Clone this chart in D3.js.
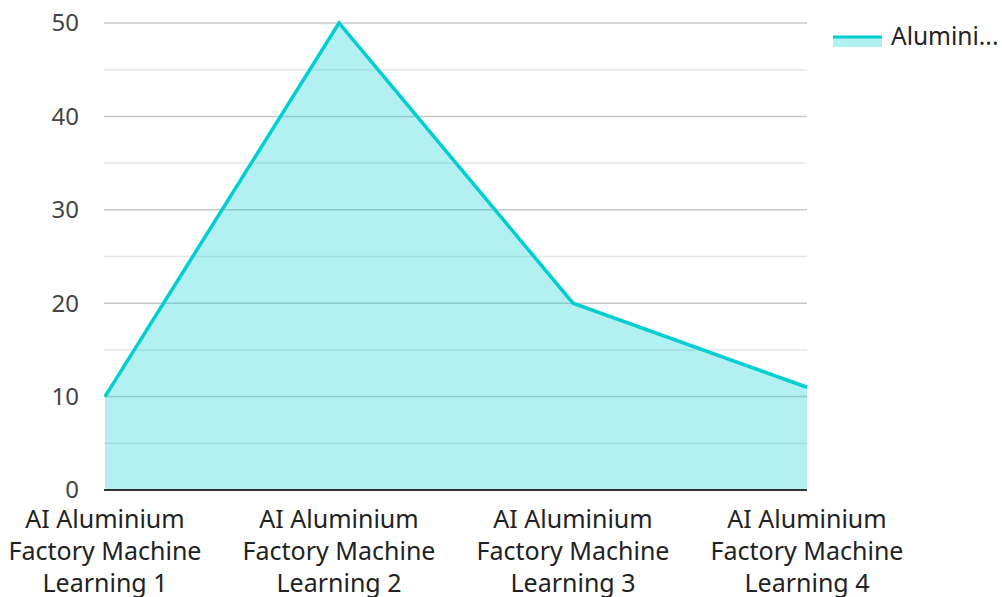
<!DOCTYPE html>
<html>
<head>
<meta charset="utf-8">
<script src="https://cdn.jsdelivr.net/npm/d3@7"></script>
<style>
  html, body { margin: 0; padding: 0; background: #fff; }
  svg { display: block; font-family: "Noto Sans", sans-serif; }
</style>
</head>
<body>
<svg id="chart" width="1002" height="597"></svg>
<script>
const categories = [
  ["AI Aluminium", "Factory Machine", "Learning 1"],
  ["AI Aluminium", "Factory Machine", "Learning 2"],
  ["AI Aluminium", "Factory Machine", "Learning 3"],
  ["AI Aluminium", "Factory Machine", "Learning 4"]
];
const values = [10, 50, 20, 11];
const majorTicks = [0, 10, 20, 30, 40, 50];
const minorTicks = [5, 15, 25, 35, 45];
const seriesName = "Alumini...";

const lineColor = "#00CED1";

const svg = d3.select("#chart");
const plot = { left: 105, right: 807, top: 23, bottom: 490 };

const x = d3.scalePoint().domain(d3.range(values.length)).range([plot.left, plot.right]);
const y = d3.scaleLinear().domain([0, 50]).range([plot.bottom, plot.top]);

// gridlines
svg.append("g").selectAll("line").data(minorTicks).join("line")
  .attr("x1", plot.left - 1).attr("x2", plot.right)
  .attr("y1", d => y(d)).attr("y2", d => y(d))
  .attr("stroke", "#e6e6e6").attr("stroke-width", 1.5);
svg.append("g").selectAll("line").data(majorTicks.filter(d => d > 0)).join("line")
  .attr("x1", plot.left - 1).attr("x2", plot.right)
  .attr("y1", d => y(d)).attr("y2", d => y(d))
  .attr("stroke", "#c8c8c8").attr("stroke-width", 1.5);

// area fill
const area = d3.area().x((d, i) => x(i)).y0(y(0)).y1(d => y(d));
svg.append("path").datum(values).attr("d", area)
  .attr("fill", lineColor).attr("fill-opacity", 0.3);

// line
const line = d3.line().x((d, i) => x(i)).y(d => y(d));
svg.append("path").datum(values).attr("d", line)
  .attr("fill", "none").attr("stroke", lineColor).attr("stroke-width", 3.5);

// baseline axis
svg.append("line").attr("x1", plot.left - 1).attr("x2", plot.right)
  .attr("y1", y(0)).attr("y2", y(0))
  .attr("stroke", "#333").attr("stroke-width", 2);

// y tick labels
svg.append("g").selectAll("text").data(majorTicks).join("text")
  .attr("x", 79).attr("y", d => y(d)).attr("dy", "0.35em")
  .attr("text-anchor", "end").attr("font-size", 24).attr("fill", "#444")
  .text(d => d);

// x category labels
const xl = svg.append("g").selectAll("text").data(categories).join("text")
  .attr("text-anchor", "middle").attr("font-size", 25).attr("fill", "#222")
  .attr("transform", (d, i) => `translate(${x(i)},0)`);
xl.selectAll("tspan").data(d => d).join("tspan")
  .attr("x", 0).attr("y", (d, j) => 528 + j * 32).text(d => d);

// legend
const lg = svg.append("g");
lg.append("rect").attr("x", 833).attr("y", 37).attr("width", 49).attr("height", 10)
  .attr("fill", lineColor).attr("fill-opacity", 0.3);
lg.append("line").attr("x1", 833).attr("x2", 882).attr("y1", 37).attr("y2", 37)
  .attr("stroke", lineColor).attr("stroke-width", 3);
lg.append("text").attr("x", 891).attr("y", 45).attr("font-size", 24.5).attr("fill", "#222")
  .text(seriesName);
</script>
</body>
</html>
